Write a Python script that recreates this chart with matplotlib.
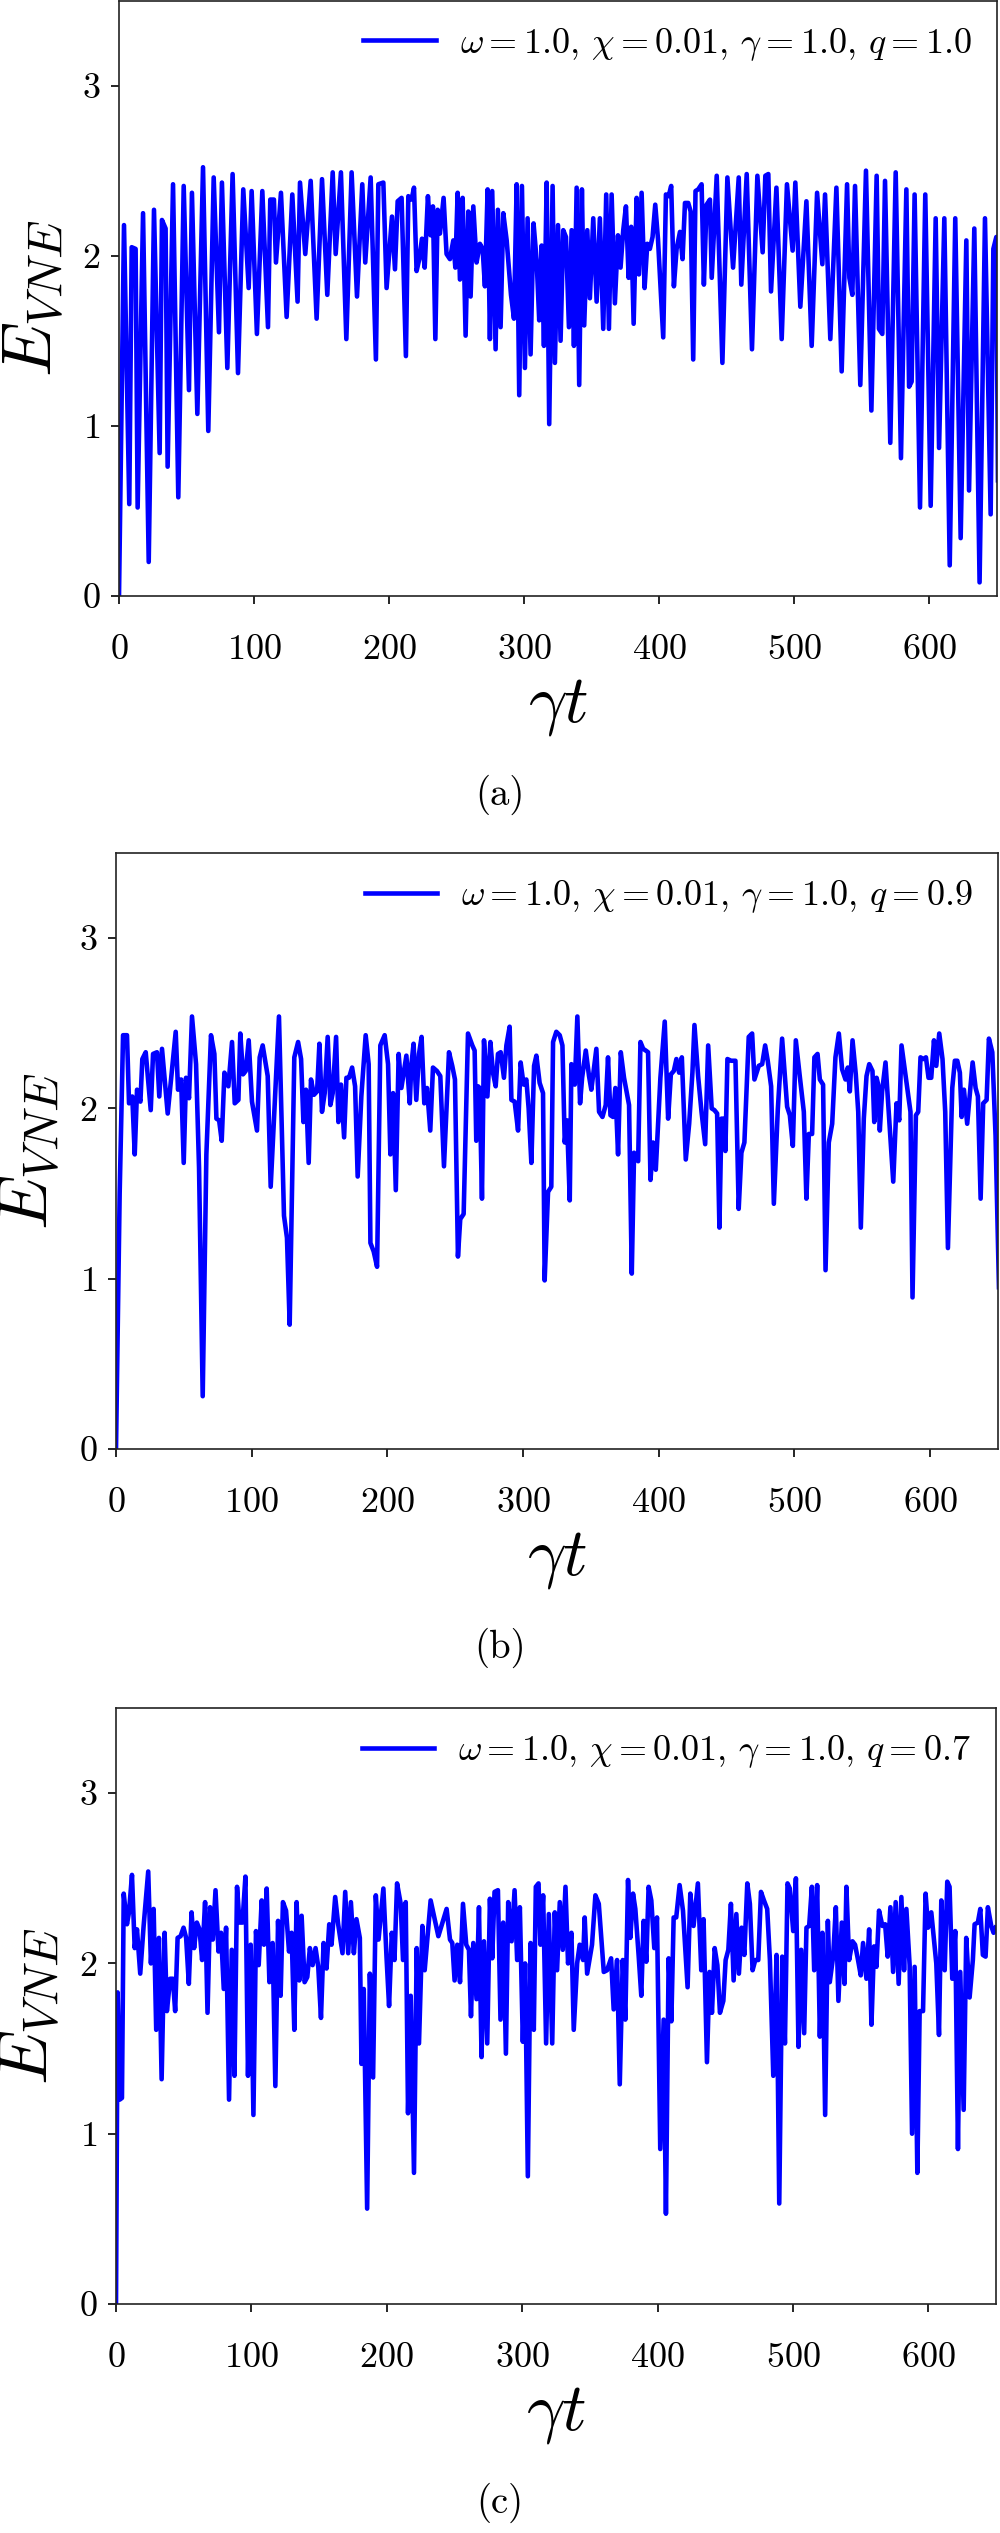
import matplotlib
matplotlib.use("Agg")
import matplotlib.pyplot as plt

plt.rcParams['font.family'] = 'serif'
plt.rcParams['font.serif'] = ['cmr10', 'DejaVu Serif']
plt.rcParams['mathtext.fontset'] = 'cm'
plt.rcParams['axes.unicode_minus'] = False
plt.rcParams['axes.formatter.use_mathtext'] = True

# ---------------- data ----------------
t_a = [0, 3.7, 7.6, 9.4, 12.3, 13.8, 17.8, 22.0, 25.9, 30.1, 31.8, 34.5, 36.0, 40.0, 43.9, 47.9,
       51.8, 54.0, 58.0, 62.2, 66.1, 70.1, 74.0, 76.2, 80.2, 84.1, 88.1, 92.0, 96.0, 98.2, 102.1,
       106.1, 110.3, 112.0, 114.7, 116.2, 119.9, 124.1, 128.3, 132.2, 134.0, 137.9, 141.9, 146.3,
       150.3, 154.2, 158.2, 160.4, 164.3, 168.3, 172.2, 176.2, 180.1, 182.3, 186.3, 190.2, 192.0,
       195.7, 198.1, 202.1, 204.3, 206.3, 209.2, 212.4, 214.2,
       216.6, 218.4, 220.3, 222.3, 224.3, 226.3, 228.7, 230.7, 232.4, 234.2, 235.9, 237.6, 240.3,
       242.5, 245.0, 247.5, 249.0, 250.7, 252.4, 254.4, 256.6, 258.6, 260.3, 262.3, 264.7, 267.2,
       269.2, 270.9, 272.9, 274.6, 276.3, 278.8, 280.5, 282.5, 284.5, 287.0, 290.2, 292.4, 294.4,
       296.3, 298.3, 300.5, 302.5, 304.7, 306.9, 309.2, 311.1, 312.9, 314.6, 316.6, 318.5, 321.0,
       322.7, 325.0, 326.9, 328.9, 330.9, 333.1, 335.1, 336.8, 338.8, 340.7, 342.7, 344.4, 346.7,
       348.6, 351.1, 353.6, 356.0, 358.5, 360.7, 362.7, 364.7, 367.1, 369.4, 371.3, 373.3, 375.3,
       377.3, 379.2, 381.0, 383.2, 384.9, 386.9, 389.1, 391.1, 393.0, 395.0, 397.0, 399.0, 402.9,
       404.9, 406.9, 408.8, 410.8, 412.8, 415.3, 417.2, 419.0, 421.4, 423.2, 425.1, 426.8, 428.8,
       431.3, 433.0, 435.0, 437.5,
       438.8, 442.5, 446.7, 450.4, 454.6, 458.8, 460.7, 464.7, 468.6, 472.6, 476.5, 478.5, 480.7,
       482.7, 486.7, 490.6, 494.5, 498.7, 500.7, 504.4, 508.9, 512.8, 516.8, 520.7, 522.7, 526.6,
       531.1, 535.0, 539.0, 540.7, 542.9, 544.9, 548.8, 553.0, 557.0, 560.9, 562.6, 565.1, 567.1,
       571.0, 575.0, 578.9, 582.9, 584.9, 586.8, 589.0, 593.0, 596.9, 600.9, 604.6, 607.1, 611.0,
       615.0, 619.1, 623.1, 627.3, 629.3, 633.2, 637.1, 641.1, 645.3, 647.3, 649.5, 650.7]
E_a = [0, 2.18, 0.54, 2.05, 2.04, 0.52, 2.25, 0.20, 2.27, 0.84, 2.21, 2.16, 0.76, 2.42, 0.58, 2.41,
       1.21, 2.37, 1.07, 2.52, 0.97, 2.46, 1.55, 2.43, 1.34, 2.48, 1.31, 2.39, 1.81, 2.38, 1.54,
       2.38, 1.58, 2.33, 2.33, 1.96, 2.37, 1.64, 2.36, 1.73, 2.43, 2.01, 2.44, 1.63,
       2.45, 1.77, 2.49, 2.01, 2.49, 1.51, 2.49, 1.76, 2.42, 1.96, 2.46, 1.39, 2.42,
       2.43, 1.81, 2.23, 1.92, 2.32, 2.34, 1.41, 2.35,
       2.33, 2.40, 1.91, 1.98, 2.10, 1.93, 2.35, 2.12, 2.29, 1.51, 2.27, 2.13, 2.34,
       2.01, 1.98, 2.09, 1.93, 2.37, 1.86, 2.34, 1.53, 2.26, 1.76, 2.29, 1.96, 2.07,
       2.04, 1.82, 2.39, 1.51, 2.38, 1.45, 2.27, 1.58, 2.25, 2.09, 1.77, 1.63, 2.42,
       1.18, 2.41, 1.34, 2.22, 1.42, 2.19, 1.97, 1.62, 2.06, 1.47, 2.43, 1.01, 2.41,
       1.37, 2.18, 1.50, 2.15, 2.11, 1.58, 2.15, 1.47, 2.40, 1.24, 2.39, 1.59, 2.15,
       1.75, 2.22, 1.73, 2.22, 1.57, 2.36, 1.57, 2.36, 1.72, 2.12, 1.93, 2.15, 2.29,
       1.87, 2.17, 1.60, 2.34, 1.89, 2.37, 1.81, 2.07, 2.04, 2.11, 2.30, 2.10, 1.52,
       2.36, 2.35, 2.41, 1.82, 2.04, 2.14, 1.98, 2.31, 2.31, 2.26, 1.39, 2.38, 2.39,
       2.42, 1.83, 2.30, 2.33,
       1.87, 2.47, 1.37, 2.46, 1.93, 2.46, 1.83, 2.48, 1.45, 2.47, 2.02, 2.47, 2.48,
       1.79, 2.40, 1.51, 2.42, 2.03, 2.43, 1.70, 2.32, 1.47, 2.37, 1.95, 2.36, 1.51,
       2.40, 1.32, 2.42, 1.87, 1.77, 2.41, 1.24, 2.50, 1.09, 2.47, 1.57, 1.54, 2.44,
       0.90, 2.49, 0.81, 2.39, 1.23, 1.26, 2.36, 0.52, 2.36, 0.53, 2.22, 0.87, 2.22,
       0.18, 2.22, 0.34, 2.09, 0.62, 2.16, 0.08, 2.22, 0.48, 2.04, 2.11, 0.68]

t_b = [0, 2.7, 5.2, 8.1, 9.6, 12.0, 13.8, 15.5, 18.0, 19.4, 21.9, 25.6, 27.3, 30.2, 31.9, 33.9,
       38.1, 44.0, 45.7, 48.0, 49.9, 51.6, 53.8, 56.0, 59.0, 61.2, 63.9, 66.6, 70.0, 72.5, 74.0,
       76.0, 77.9, 79.9, 82.8, 85.5, 87.5, 90.2, 91.6, 93.6, 95.6, 97.8, 100.2, 103.9, 105.9,
       108.1, 111.8, 114.0, 120.1, 123.8, 126.0, 128.0, 131.4, 134.2, 136.4, 138.1, 140.0, 142.0,
       143.7, 145.9, 148.2, 149.9, 151.8, 153.8, 156.0, 158.0, 159.7, 162.2, 163.9, 165.8, 168.1,
       169.8, 171.7, 174.0, 176.2, 178.1, 180.8, 184.0, 186.2, 187.5, 189.9, 192.4, 194.8, 198.0,
       200.5, 202.2, 204.2, 206.2, 208.3, 210.3, 214.0, 216.5,
       217.6, 219.3, 221.3, 223.3, 225.2, 227.2, 229.2, 231.6, 233.6, 236.5, 239.0, 241.7, 245.4,
       247.8, 249.8, 252.0, 253.7, 256.2, 259.4, 262.6, 264.3, 265.5, 266.8, 268.0, 269.7, 271.2,
       273.7, 275.9, 277.8, 279.8, 281.5, 283.5, 285.9, 287.7, 290.1, 291.4, 293.8, 296.3, 298.2,
       300.4, 302.4, 304.1, 306.1, 308.1, 309.8, 312.2, 314.7, 315.9, 318.4, 320.8, 322.1, 324.5,
       327.0, 329.0, 330.7, 332.4, 334.4, 335.6, 338.1, 340.0, 342.0, 343.5, 346.2, 348.6, 350.3,
       354.0, 356.0, 358.5, 360.9, 362.6, 364.4, 366.3, 368.0, 370.0, 372.0, 374.4, 378.1, 380.1,
       381.8, 384.8, 386.5, 388.5, 390.4, 392.1, 393.9, 395.8, 397.8, 401.2, 404.4, 406.9, 408.9,
       411.1, 413.0, 415.0, 417.0, 419.9, 422.4, 424.8, 426.3, 429.0, 431.5, 434.2, 436.4,
       439.0, 441.0, 443.0, 444.7, 446.2, 447.9, 449.1, 450.6, 453.3, 456.5, 458.9, 460.9, 463.1,
       466.3, 468.8, 470.5, 473.7, 476.2, 478.4, 480.3, 482.8, 484.8, 487.7, 490.9, 494.6, 496.6,
       498.8, 501.0, 503.9, 506.9, 508.8, 510.6, 513.0, 514.7, 517.0, 518.7, 521.1, 522.9, 525.3,
       527.8, 530.2, 532.7, 535.1, 537.6, 539.3, 540.8, 542.8, 545.2, 547.0, 548.9, 551.1, 553.1,
       555.1, 557.5, 558.8, 560.5, 561.7, 562.9, 564.6, 567.1, 569.6, 572.8, 575.2, 577.2, 578.9,
       581.9, 584.3, 585.5, 587.0, 589.5, 591.2, 592.9, 594.9, 596.9, 598.8, 600.8, 602.8, 604.5,
       606.7, 609.1, 611.1, 613.1, 616.3, 618.2, 620.0, 621.9, 623.2, 624.9, 627.3, 631.3, 633.5,
       635.2, 637.2, 639.1, 641.6, 643.3, 645.8, 648.2, 650.7]
E_b = [0, 1.50, 2.43, 2.43, 2.03, 2.07, 1.73, 2.11, 2.04, 2.29, 2.33, 1.99, 2.32, 2.33, 2.07, 2.35,
       1.97, 2.45, 2.11, 2.17, 1.68, 2.18, 2.06, 2.54, 2.26, 1.65, 0.31, 1.73, 2.43, 2.32, 1.94,
       1.93, 1.81, 2.21, 2.13, 2.39, 2.03, 2.05, 2.44, 2.20, 2.22, 2.40, 2.04, 1.87, 2.30,
       2.37, 2.19, 1.54, 2.54, 1.37, 1.24, 0.73, 2.30, 2.39, 2.29, 1.92, 2.11, 1.68,
       2.17, 2.08, 2.10, 2.38, 1.98, 2.09, 2.42, 2.02, 2.09, 2.42, 1.92, 2.14, 1.83,
       2.18, 2.18, 2.24, 2.13, 1.60, 2.07, 2.43, 2.26, 1.21, 1.16, 1.07, 2.37, 2.43,
       2.26, 1.73, 2.09, 1.52, 2.32, 2.12, 2.31, 2.03,
       2.25, 2.38, 2.05, 2.32, 2.42, 2.03, 2.12, 1.87, 2.24, 2.22, 2.19, 1.66, 2.33,
       2.25, 2.17, 1.13, 1.35, 1.38, 2.44, 2.37, 2.34, 1.81, 2.13, 2.12, 1.47, 2.40,
       2.07, 2.39, 2.21, 2.13, 2.32, 2.33, 2.18, 2.37, 2.48, 2.05, 2.04, 1.87, 2.27,
       2.14, 2.17, 2.00, 1.68, 2.25, 2.31, 2.15, 2.09, 0.99, 1.51, 1.54, 2.39, 2.45,
       2.43, 2.37, 1.80, 1.93, 1.46, 2.26, 2.14, 2.54, 2.03, 2.18, 2.34, 2.19, 2.11,
       2.35, 1.98, 1.95, 2.02, 2.30, 1.96, 1.95, 2.12, 1.73, 2.33, 2.18, 2.02, 1.03,
       1.74, 1.69, 2.39, 2.35, 2.34, 2.33, 1.58, 1.80, 1.64, 2.18, 2.51, 1.94, 2.20,
       2.22, 2.29, 2.21, 2.30, 1.70, 1.91, 2.21, 2.49, 2.19, 1.98, 1.79, 2.37,
       2.00, 1.99, 1.97, 1.30, 1.94, 1.94, 1.75, 2.29, 2.28, 2.28, 1.41, 1.74, 1.80,
       2.42, 2.44, 2.17, 2.25, 2.26, 2.37, 2.28, 2.13, 1.44, 1.99, 2.41, 2.01, 1.96,
       1.78, 2.40, 2.19, 1.98, 1.47, 1.85, 1.85, 2.30, 2.32, 2.17, 2.14, 1.05, 1.80,
       1.91, 2.30, 2.44, 2.23, 2.17, 2.24, 2.10, 2.40, 2.20, 1.98, 1.30, 1.94, 2.19,
       2.26, 2.22, 1.92, 2.18, 2.14, 1.87, 2.10, 2.27, 1.96, 1.57, 2.03, 1.93, 2.37,
       2.19, 2.05, 1.98, 0.89, 1.96, 1.98, 2.30, 2.29, 2.30, 2.18, 2.18, 2.40, 2.25,
       2.44, 2.29, 1.98, 1.18, 2.12, 2.28, 2.28, 2.21, 1.95, 2.11, 1.91, 2.27, 2.12,
       2.07, 1.47, 2.03, 2.05, 2.41, 2.33, 1.84, 0.95]

t_c = [0, 1.2, 2.7, 4.4, 5.7, 8.1, 9.6, 11.8, 13.8, 15.5, 17.9, 20.4, 23.8, 25.8, 27.8, 29.7,
       31.7, 33.7, 35.9, 37.6, 40.0, 42.0, 43.7, 45.5, 47.7, 49.9, 51.8, 53.8, 55.8, 57.7, 59.7,
       61.7, 63.6, 65.8, 67.6, 69.5, 71.5, 73.5, 75.7, 77.6, 79.6, 81.3, 83.5, 85.5, 87.5, 89.4,
       91.2, 93.4, 95.6, 97.5, 99.5, 101.5, 103.4, 105.4, 107.6, 109.3, 111.3, 113.3, 115.7, 117.7,
       119.7, 121.6, 123.3, 125.6, 127.8, 129.7, 131.7, 133.4, 135.4, 137.1, 139.3, 141.3, 143.2,
       145.2, 147.4, 149.4, 151.4, 153.3, 155.5, 157.5, 159.2, 161.9, 164.1, 167.3, 169.3, 171.5,
       173.5, 175.7, 177.6, 180.1, 181.3, 183.0, 185.5, 187.5, 189.9, 191.9, 193.9, 197.5, 199.8,
       201.7, 203.7, 205.7, 207.6, 210.3, 212.0, 214.0, 215.7,
       217.7, 220.1, 222.1, 223.8, 226.3, 228.0, 232.4, 238.1, 244.2, 246.7, 248.4, 250.1, 252.1,
       254.1, 256.3, 258.7, 260.7, 262.2, 263.9, 266.3, 268.1, 270.0, 271.8, 274.2, 276.2, 277.9,
       279.6, 282.1, 284.0, 286.0, 288.0, 289.7, 292.2, 294.4, 296.3, 298.3, 300.5, 302.2, 304.2,
       306.2, 308.6, 310.1, 312.1, 313.5, 315.5, 317.7, 319.7, 322.2, 324.1, 325.8, 327.8, 330.0,
       332.0, 333.9, 336.4, 338.1, 340.6, 342.5, 345.0, 346.2, 348.0, 351.6, 354.1, 356.6, 360.3,
       362.7, 365.7, 367.6, 370.1, 372.1, 374.3, 376.2, 378.2, 379.9, 381.9, 383.6, 386.1, 388.0,
       389.7, 391.7, 393.4, 395.4, 397.6, 399.6, 402.0, 404.5, 406.2, 408.2, 410.2, 411.9, 413.8,
       416.3, 418.8, 422.2, 424.2, 426.6, 429.8, 432.3, 434.0, 436.5, 438.4,
       440.2, 442.2, 444.2, 446.1, 448.6, 450.3, 452.3, 454.2, 456.2, 458.2, 460.1, 462.1, 464.1,
       466.3, 468.2, 470.2, 472.2, 474.4, 476.4, 478.6, 481.0, 483.0, 485.5, 487.9, 489.9, 492.1,
       494.1, 496.0, 497.7, 500.2, 502.2, 504.1, 506.1, 508.3, 510.0, 512.0, 514.0, 515.7, 517.9,
       519.9, 521.8, 523.8, 525.8, 527.2, 529.7, 531.7, 533.6, 536.1, 538.1, 539.5, 541.5, 544.0,
       545.9, 548.1, 550.1, 551.8, 554.3, 556.3, 558.0, 559.9, 561.7, 563.6, 566.1, 568.1, 570.0,
       572.0, 574.0, 575.9, 578.1, 580.1, 582.1, 583.8, 586.2, 588.0, 589.9, 591.9, 593.6, 596.1,
       598.0, 599.8, 602.2, 605.9, 607.9, 609.6, 612.1, 614.0, 615.7, 617.7, 619.9, 621.9, 623.6,
       626.1, 628.0, 630.5, 632.9, 634.2, 636.6, 638.4, 640.3, 642.3, 644.0, 646.5, 648.2, 649.7]
E_c = [0, 1.83, 1.20, 1.21, 2.41, 2.23, 2.30, 2.52, 2.09, 2.20, 1.94, 2.22, 2.54, 2.00, 2.32, 1.61,
       2.15, 1.32, 2.18, 1.72, 1.91, 1.91, 1.72, 2.15, 2.16, 2.21, 2.15, 1.88, 2.30, 2.09, 2.24,
       2.20, 2.02, 2.36, 1.71, 2.33, 2.14, 2.43, 2.07, 2.18, 1.85, 2.21, 1.20, 2.08, 1.34, 2.45,
       2.24, 2.24, 2.51, 1.34, 2.11, 1.11, 2.19, 1.99, 2.37, 2.11, 2.44, 1.89, 2.12, 1.28,
       2.25, 1.81, 2.36, 2.31, 2.07, 2.18, 1.61, 2.36, 1.90, 2.28, 1.89, 1.92, 2.09,
       1.99, 2.09, 1.98, 1.68, 2.12, 1.97, 2.23, 2.11, 2.39, 2.23, 2.06, 2.42, 2.06,
       2.36, 2.06, 2.26, 2.15, 1.41, 1.85, 0.56, 1.94, 1.33, 2.40, 2.14, 2.44, 2.04,
       1.75, 2.18, 2.02, 2.47, 2.35, 2.02, 2.36, 1.12,
       1.81, 0.77, 2.09, 1.53, 2.22, 1.96, 2.37, 2.16, 2.32, 2.14, 2.12, 1.90, 2.11,
       1.89, 2.35, 2.11, 2.08, 1.69, 2.12, 1.79, 2.33, 1.45, 2.13, 1.53, 2.38, 2.03,
       2.42, 2.43, 1.67, 2.24, 1.47, 2.36, 2.13, 2.43, 2.02, 2.33, 1.54, 2.00, 0.75,
       2.12, 1.61, 2.45, 2.47, 2.11, 2.40, 1.53, 2.29, 1.53, 2.30, 1.96, 2.36, 2.08,
       2.45, 2.00, 2.18, 1.61, 2.00, 2.11, 2.02, 2.27, 1.94, 2.11, 2.40, 2.35, 1.95,
       1.96, 2.03, 1.73, 2.02, 1.29, 2.02, 1.67, 2.49, 2.15, 2.41, 2.32, 2.04, 1.81,
       2.25, 2.01, 2.45, 2.37, 2.09, 2.27, 0.91, 1.67, 0.53, 2.03, 1.66, 2.27, 2.27,
       2.46, 2.31, 1.86, 2.41, 2.22, 2.47, 1.96, 2.26, 1.42, 1.95,
       1.71, 2.09, 1.99, 1.71, 1.78, 2.02, 2.08, 2.35, 1.90, 2.29, 1.94, 2.21, 2.05,
       2.47, 2.35, 1.96, 2.02, 2.02, 2.42, 2.37, 2.32, 2.02, 1.34, 2.05, 0.59, 2.04,
       1.53, 2.47, 2.44, 2.19, 2.50, 1.51, 2.08, 1.59, 2.21, 2.22, 2.45, 1.96, 2.46,
       1.57, 2.18, 1.11, 2.25, 1.89, 2.04, 2.33, 1.78, 2.24, 1.88, 2.45, 2.02, 2.13,
       2.11, 2.02, 1.93, 2.12, 1.91, 2.20, 1.64, 2.10, 1.98, 2.31, 2.22, 2.23, 2.04,
       2.33, 1.95, 2.36, 1.88, 2.39, 1.96, 2.32, 1.99, 1.00, 1.98, 0.77, 1.72, 1.72,
       2.41, 2.21, 2.30, 2.00, 1.58, 2.37, 1.96, 2.48, 2.45, 1.91, 2.19, 0.91, 1.95,
       1.14, 2.15, 1.80, 2.02, 2.23, 2.24, 2.32, 2.05, 2.04, 2.33, 2.22, 2.18, 2.21]

q_values = ['1.0', '0.9', '0.7']
captions = ['(a)', '(b)', '(c)']
x_ticks = [0, 100, 200, 300, 400, 500, 600]
y_ticks = [0, 1, 2, 3]

series = [(t_a, E_a), (t_b, E_b), (t_c, E_c)]

# ---------------- layout ----------------
W, H = 1000, 2533
fig = plt.figure(figsize=(W / 100, H / 100), dpi=100)

# (left, top, right, bottom) in pixels
boxes = [(119, 0.5, 997, 596), (116, 853, 998, 1449), (116, 1708, 996, 2304)]
caption_y = [795, 1648, 2503]

for (t, E), q, cap, (l, tp, r, b), cy in zip(series, q_values, captions, boxes, caption_y):
    ax = fig.add_axes([l / W, 1 - b / H, (r - l) / W, (b - tp) / H])
    ax.plot(t, E, color='blue', lw=3.3,
            label=r'$\omega=1.0$, $\chi=0.01$, $\gamma=1.0$, $q=%s$' % q)
    ax.set_xlim(0, 650)
    ax.set_ylim(0, 3.5)
    ax.set_xticks(x_ticks)
    ax.set_yticks(y_ticks)
    ax.tick_params(axis='both', direction='out', length=5.5, width=1.2,
                   labelsize=26, top=False, right=False)
    ax.tick_params(axis='x', pad=22)
    ax.tick_params(axis='y', pad=8)
    for s in ax.spines.values():
        s.set_linewidth(1.2)
        s.set_color('#222222')
    ax.set_xlabel(r'$\gamma t$', fontsize=49)
    ax.xaxis.set_label_coords(0.5, -0.135)
    ax.set_ylabel(r'$E_{VNE}$', fontsize=50)
    ax.yaxis.set_label_coords(-0.062, 0.5)
    ax.legend(loc='upper right', frameon=False, fontsize=26,
              handlelength=2.0, handletextpad=0.67, borderaxespad=0.3)
    fig.text(0.5, 1 - cy / H, cap, ha='center', va='center', fontsize=28)

fig.savefig('out.png', dpi=100)
